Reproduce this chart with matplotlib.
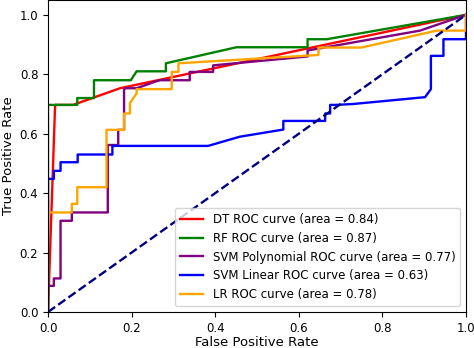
import matplotlib
matplotlib.use('Agg')
import matplotlib.pyplot as plt

# ROC curves
dt_fpr = [0.0, 0.017, 0.06, 0.172, 1.0]
dt_tpr = [0.0, 0.697, 0.697, 0.753, 1.0]

rf_fpr = [0.0, 0.0, 0.07, 0.07, 0.11, 0.11, 0.198, 0.212, 0.282, 0.282, 0.451, 0.621, 0.621, 0.667, 1.0]
rf_tpr = [0.0, 0.697, 0.697, 0.72, 0.72, 0.78, 0.78, 0.81, 0.81, 0.837, 0.891, 0.891, 0.918, 0.918, 1.0]

poly_fpr = [0.0, 0.0, 0.014, 0.014, 0.030, 0.030, 0.057, 0.057, 0.143, 0.143, 0.168, 0.168, 0.182, 0.182,
            0.184, 0.212, 0.256, 0.268, 0.339, 0.339, 0.395, 0.395, 0.621, 0.621, 0.89, 1.0]
poly_tpr = [0.0, 0.088, 0.088, 0.113, 0.113, 0.307, 0.307, 0.335, 0.335, 0.562, 0.562, 0.613, 0.613, 0.75,
            0.753, 0.753, 0.775, 0.78, 0.78, 0.808, 0.808, 0.83, 0.86, 0.88, 0.947, 1.0]

lin_fpr = [0.0, 0.0, 0.014, 0.014, 0.030, 0.030, 0.071, 0.071, 0.154, 0.154, 0.383, 0.459, 0.563, 0.563,
           0.663, 0.663, 0.675, 0.675, 0.689, 0.730, 0.902, 0.916, 0.916, 0.946, 0.946, 1.0, 1.0]
lin_tpr = [0.0, 0.448, 0.448, 0.475, 0.475, 0.504, 0.504, 0.53, 0.53, 0.559, 0.559, 0.59, 0.614, 0.643,
           0.643, 0.668, 0.668, 0.697, 0.697, 0.70, 0.723, 0.75, 0.862, 0.862, 0.918, 0.918, 1.0]

lr_fpr = [0.0, 0.0, 0.057, 0.057, 0.07, 0.07, 0.14, 0.14, 0.182, 0.182, 0.196, 0.196, 0.212, 0.212,
          0.296, 0.296, 0.312, 0.312, 0.647, 0.647, 0.750, 0.93, 1.0, 1.0]
lr_tpr = [0.0, 0.335, 0.335, 0.364, 0.364, 0.42, 0.42, 0.613, 0.613, 0.668, 0.668, 0.703, 0.736, 0.75,
          0.75, 0.808, 0.808, 0.837, 0.865, 0.89, 0.89, 0.947, 0.947, 1.0]

curves = [
    (dt_fpr, dt_tpr, 'red', 'DT ROC curve (area = 0.84)'),
    (rf_fpr, rf_tpr, 'green', 'RF ROC curve (area = 0.87)'),
    (poly_fpr, poly_tpr, 'purple', 'SVM Polynomial ROC curve (area = 0.77)'),
    (lin_fpr, lin_tpr, 'blue', 'SVM Linear ROC curve (area = 0.63)'),
    (lr_fpr, lr_tpr, 'orange', 'LR ROC curve (area = 0.78)'),
]

fig, ax = plt.subplots(figsize=(4.74, 3.48), dpi=100)
fig.subplots_adjust(left=48/474, right=466/474, bottom=1-312/348, top=1.0)

for fpr, tpr, color, label in curves:
    ax.plot(fpr, tpr, color=color, lw=1.7, label=label)
ax.plot([0, 1], [0, 1], color='navy', lw=1.7, linestyle='--')

ax.set_xlim(0.0, 1.0)
ax.set_ylim(0.0, 1.05)
ax.set_xticks([0.0, 0.2, 0.4, 0.6, 0.8, 1.0])
ax.set_yticks([0.0, 0.2, 0.4, 0.6, 0.8, 1.0])
ax.tick_params(labelsize=8.5)
ax.set_xlabel('False Positive Rate', fontsize=9.5, labelpad=1)
ax.set_ylabel('True Positive Rate', fontsize=9.5, labelpad=3)
ax.legend(loc='lower right', fontsize=8.5)

fig.savefig('out.png', dpi=100)
